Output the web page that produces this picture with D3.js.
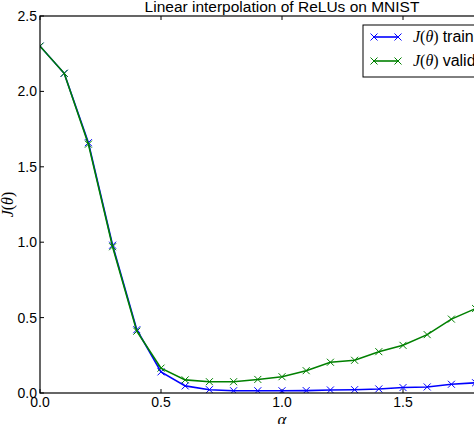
<!DOCTYPE html>
<html>
<head>
<meta charset="utf-8">
<script src="https://cdn.jsdelivr.net/npm/d3@7"></script>
<style>
  html, body { margin: 0; padding: 0; background: #fff; overflow: hidden; }
  svg { display: block; }
</style>
</head>
<body>
<div id="chart"></div>
<script>
// alpha values along the interpolation path
const alphas = [0.0, 0.1, 0.2, 0.3, 0.4, 0.5, 0.6, 0.7, 0.8, 0.9, 1.0, 1.1, 1.2, 1.3, 1.4, 1.5, 1.6, 1.7, 1.8];
// cost on training set
const trainCost = [2.30, 2.12, 1.66, 0.98, 0.42, 0.14, 0.047, 0.022, 0.015, 0.015, 0.015, 0.016, 0.020, 0.022, 0.027, 0.036, 0.040, 0.058, 0.068];
// cost on validation set
const validCost = [2.30, 2.12, 1.65, 0.97, 0.41, 0.165, 0.087, 0.075, 0.075, 0.090, 0.108, 0.148, 0.204, 0.217, 0.274, 0.316, 0.387, 0.490, 0.560];

const xTicks = [0.0, 0.5, 1.0, 1.5, 2.0];
const yTicks = [0.0, 0.5, 1.0, 1.5, 2.0, 2.5];

const series = [
    { name: "train", values: trainCost, color: "#0000ff" },
    { name: "valid", values: validCost, color: "#008000" }
];

const width = 474, height = 424;
// the figure is cropped on the right: the axes run past the window edge
const margin = { left: 40, top: 16, right: 524, bottom: 393 };

const svg = d3.select("#chart")
    .append("svg")
    .attr("width", width)
    .attr("height", height);

const x = d3.scaleLinear().domain([0, 2]).range([margin.left, margin.right]);
const y = d3.scaleLinear().domain([0, 2.5]).range([margin.bottom, margin.top]);

svg.append("clipPath").attr("id", "plot-clip")
    .append("rect")
    .attr("x", margin.left).attr("y", margin.top)
    .attr("width", margin.right - margin.left)
    .attr("height", margin.bottom - margin.top);

const font = "'Liberation Sans', Arial, sans-serif";

// ticks (inside, on all four sides)
const ticks = svg.append("g").attr("stroke", "#000").attr("stroke-width", 1);
xTicks.forEach(t => {
    ticks.append("line").attr("x1", x(t)).attr("x2", x(t)).attr("y1", margin.bottom).attr("y2", margin.bottom - 4);
    ticks.append("line").attr("x1", x(t)).attr("x2", x(t)).attr("y1", margin.top).attr("y2", margin.top + 4);
});
yTicks.forEach(t => {
    ticks.append("line").attr("x1", margin.left).attr("x2", margin.left + 4).attr("y1", y(t)).attr("y2", y(t));
    ticks.append("line").attr("x1", margin.right).attr("x2", margin.right - 4).attr("y1", y(t)).attr("y2", y(t));
});

// tick labels
svg.append("g").selectAll("text")
    .data(xTicks).enter().append("text")
    .attr("x", d => x(d)).attr("y", margin.bottom + 14)
    .attr("text-anchor", "middle")
    .style("font-family", font).style("font-size", "14px")
    .text(d => d.toFixed(1));

svg.append("g").selectAll("text")
    .data(yTicks).enter().append("text")
    .attr("x", margin.left - 3).attr("y", d => y(d) + 5)
    .attr("text-anchor", "end")
    .style("font-family", font).style("font-size", "14px")
    .text(d => d.toFixed(1));

// lines and markers
const line = d3.line().x((d, i) => x(alphas[i])).y(d => y(d));
const plot = svg.append("g").attr("clip-path", "url(#plot-clip)");

series.forEach(s => {
    plot.append("path")
        .datum(s.values)
        .attr("fill", "none")
        .attr("stroke", s.color)
        .attr("stroke-width", 1.6)
        .attr("d", line);
    plot.append("g").selectAll("path")
        .data(s.values).enter().append("path")
        .attr("transform", (d, i) => `translate(${x(alphas[i])},${y(d)})`)
        .attr("d", "M-3.5,-3.5L3.5,3.5M-3.5,3.5L3.5,-3.5")
        .attr("stroke", s.color)
        .attr("stroke-width", 1);
});

// frame
svg.append("rect")
    .attr("x", margin.left).attr("y", margin.top)
    .attr("width", margin.right - margin.left)
    .attr("height", margin.bottom - margin.top)
    .attr("fill", "none").attr("stroke", "#000").attr("stroke-width", 1.2);

// title
svg.append("text")
    .attr("x", x(1.0)).attr("y", 12)
    .attr("text-anchor", "middle")
    .style("font-family", font).style("font-size", "15.5px")
    .text("Linear interpolation of ReLUs on MNIST");

// axis labels
svg.append("text")
    .attr("x", x(1.0)).attr("y", 425)
    .attr("text-anchor", "middle")
    .style("font-family", "'Liberation Serif', serif").style("font-style", "italic").style("font-size", "17px")
    .text("α");

const yl = svg.append("text")
    .attr("transform", `translate(13,${(margin.top + margin.bottom) / 2}) rotate(-90)`)
    .attr("text-anchor", "middle")
    .style("font-family", "'Liberation Serif', serif").style("font-size", "16px");
yl.append("tspan").style("font-style", "italic").text("J");
yl.append("tspan").text("(");
yl.append("tspan").style("font-style", "italic").text("θ");
yl.append("tspan").text(")");

// legend
const legend = svg.append("g");
legend.append("rect")
    .attr("x", 363).attr("y", 25)
    .attr("width", 160).attr("height", 52)
    .attr("fill", "#fff").attr("stroke", "#000").attr("stroke-width", 1);

series.forEach((s, i) => {
    const ly = 37 + i * 24;
    legend.append("line")
        .attr("x1", 374).attr("x2", 398).attr("y1", ly).attr("y2", ly)
        .attr("stroke", s.color).attr("stroke-width", 1.6);
    [374, 398].forEach(mx => {
        legend.append("path")
            .attr("transform", `translate(${mx},${ly})`)
            .attr("d", "M-3.5,-3.5L3.5,3.5M-3.5,3.5L3.5,-3.5")
            .attr("stroke", s.color).attr("stroke-width", 1);
    });
    const t = legend.append("text")
        .attr("x", 413).attr("y", ly + 5)
        .style("font-size", "16px");
    t.append("tspan").style("font-family", "'Liberation Serif', serif").style("font-style", "italic").text("J");
    t.append("tspan").style("font-family", "'Liberation Serif', serif").text("(");
    t.append("tspan").style("font-family", "'Liberation Serif', serif").style("font-style", "italic").text("θ");
    t.append("tspan").style("font-family", "'Liberation Serif', serif").text(") ");
    t.append("tspan").style("font-family", font).text(s.name);
});
</script>
</body>
</html>
